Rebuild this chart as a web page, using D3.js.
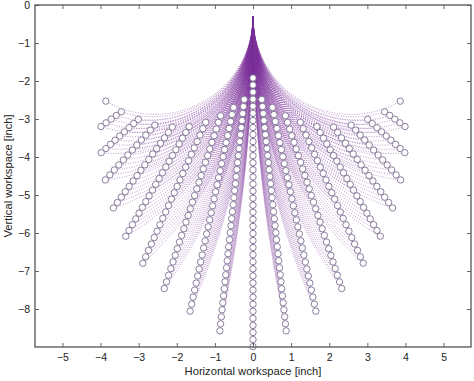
<!DOCTYPE html>
<html>
<head>
<meta charset="utf-8">
<script src="https://cdn.jsdelivr.net/npm/d3@7/dist/d3.min.js"></script>
<style>
  body { margin: 0; background: #fff; }
  text { font-family: "Liberation Sans", Arial, sans-serif; fill: #222; }
</style>
</head>
<body>
<svg id="chart" width="474" height="381"></svg>
<script>
// ray direction (deg from straight down, negative = left)
const rayAngles = [-60, -54, -48, -42, -36, -30, -24, -18, -12, -6, 0, 6, 12, 18, 24, 30, 36, 42, 48, 54, 60];
// distance of first / last circle from the base point, in inch
const innerDist = [4.46, 4.27, 4.05, 3.85, 3.6, 3.35, 3.05, 2.75, 2.45, 2.2, 1.62, 2.2, 2.45, 2.75, 3.05, 3.35, 3.6, 3.85, 4.05, 4.27, 4.46];
const outerDist = [4.46, 4.93, 5.36, 5.79, 6.23, 6.68, 7.11, 7.53, 7.93, 8.32, 8.69, 8.32, 7.93, 7.53, 7.11, 6.68, 6.23, 5.79, 5.36, 4.93, 4.46];
// number of circles on each ray
const circleCount = [1, 5, 9, 12, 16, 20, 23, 27, 30, 34, 39, 34, 30, 27, 23, 20, 16, 12, 9, 5, 1];
const basePoint = [0, -0.3];

const xTicks = [-5, -4, -3, -2, -1, 0, 1, 2, 3, 4, 5];
const yTicks = [0, -1, -2, -3, -4, -5, -6, -7, -8];

const margin = { top: 5, right: 3, bottom: 34, left: 35 };
const W = 474, H = 381;
const width = W - margin.left - margin.right;
const height = H - margin.top - margin.bottom;

const svg = d3.select('#chart');
const g = svg.append('g').attr('transform', `translate(${margin.left},${margin.top})`);

const x = d3.scaleLinear().domain([-5.72, 5.72]).range([0, width]);
const y = d3.scaleLinear().domain([-9, 0]).range([height, 0]);

// tip positions
const tips = [];
rayAngles.forEach((a, i) => {
  const rad = a * Math.PI / 180;
  const n = circleCount[i];
  for (let j = 0; j < n; j++) {
    const d = n === 1 ? outerDist[i] : innerDist[i] + (outerDist[i] - innerDist[i]) * j / (n - 1);
    tips.push({ ray: i, idx: j, tx: basePoint[0] + d * Math.sin(rad), ty: basePoint[1] - d * Math.cos(rad) });
  }
});

// backbone curves: arc leaving the base straight down and ending at the tip
const bx = x(basePoint[0]), by = y(basePoint[1]);
const arcPath = t => {
  const px = x(t.tx), py = y(t.ty);
  const dx = px - bx, dy = py - by;
  if (Math.abs(dx) < 0.01) return `M${bx},${by}L${px},${py}`;
  const r = (dx * dx + dy * dy) / (2 * Math.abs(dx));
  const sweep = dx < 0 ? 1 : 0;
  return `M${bx},${by}A${r},${r} 0 0 ${sweep} ${px},${py}`;
};

g.append('g')
  .selectAll('path')
  .data(tips)
  .enter()
  .append('path')
  .attr('d', arcPath)
  .attr('fill', 'none')
  .attr('stroke', '#7a3199')
  .attr('stroke-width', 0.5)
  .attr('stroke-dasharray', '1 1.5')
  .attr('stroke-dashoffset', d => (d.idx * 0.9 + d.ray * 0.4) % 2.5);

g.append('g')
  .selectAll('circle')
  .data(tips)
  .enter()
  .append('circle')
  .attr('cx', d => x(d.tx))
  .attr('cy', d => y(d.ty))
  .attr('r', 3.2)
  .attr('fill', '#fff')
  .attr('stroke', '#76688c')
  .attr('stroke-width', 0.85);

// axes (ticks inside, box on)
const axisStyle = sel => {
  sel.select('.domain').remove();
  sel.selectAll('line').attr('stroke', '#555').attr('stroke-width', 0.9);
  sel.selectAll('text').style('font-size', '10.5px').attr('fill', '#222');
};

g.append('g')
  .attr('transform', `translate(0,${height})`)
  .call(d3.axisBottom(x).tickValues(xTicks).tickSizeInner(-4).tickSizeOuter(0).tickPadding(7))
  .call(axisStyle);
g.append('g')
  .call(d3.axisTop(x).tickValues(xTicks).tickSizeInner(-4).tickSizeOuter(0).tickFormat(''))
  .call(axisStyle);
g.append('g')
  .call(d3.axisLeft(y).tickValues(yTicks).tickSizeInner(-4).tickSizeOuter(0).tickPadding(5))
  .call(axisStyle);
g.append('g')
  .attr('transform', `translate(${width},0)`)
  .call(d3.axisRight(y).tickValues(yTicks).tickSizeInner(-4).tickSizeOuter(0).tickFormat(''))
  .call(axisStyle);

g.append('rect')
  .attr('width', width)
  .attr('height', height)
  .attr('fill', 'none')
  .attr('stroke', '#555')
  .attr('stroke-width', 1.3);

svg.append('text')
  .attr('x', margin.left + width / 2)
  .attr('y', 375)
  .attr('text-anchor', 'middle')
  .style('font-size', '11.2px')
  .text('Horizontal workspace [inch]');

svg.append('text')
  .attr('transform', `translate(12,${margin.top + height / 2}) rotate(-90)`)
  .attr('text-anchor', 'middle')
  .style('font-size', '11.2px')
  .text('Vertical workspace [inch]');
</script>
</body>
</html>
